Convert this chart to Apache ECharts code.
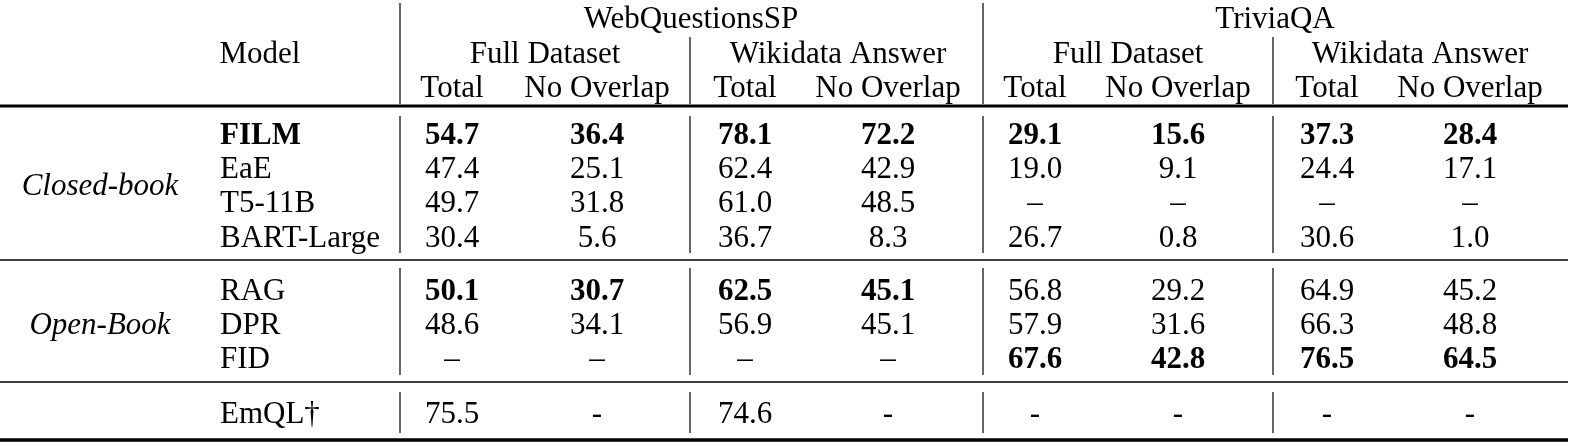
<!DOCTYPE html>
<html>
<head>
<meta charset="utf-8">
<script src="https://cdn.jsdelivr.net/npm/echarts@6/dist/echarts.min.js"></script>
<style>
html,body{margin:0;padding:0;background:#fff;}
#chart{width:1578px;height:447px;}
</style>
</head>
<body>
<div id="chart"></div>
<script>
// ---------- DATA ----------
const datasets = ['WebQuestionsSP', 'TriviaQA'];
const subsets = ['Full Dataset', 'Wikidata Answer'];
const metrics = ['Total', 'No Overlap'];
const groups = ['Closed-book', 'Open-Book'];
const models = ['FILM', 'EaE', 'T5-11B', 'BART-Large', 'RAG', 'DPR', 'FID', 'EmQL†'];

const wqFullTotal  = [54.7, 47.4, 49.7, 30.4, 50.1, 48.6, '–', 75.5];
const wqFullNoOv   = [36.4, 25.1, 31.8, 5.6, 30.7, 34.1, '–', '-'];
const wqWikiTotal  = [78.1, 62.4, 61.0, 36.7, 62.5, 56.9, '–', 74.6];
const wqWikiNoOv   = [72.2, 42.9, 48.5, 8.3, 45.1, 45.1, '–', '-'];
const tqFullTotal  = [29.1, 19.0, '–', 26.7, 56.8, 57.9, 67.6, '-'];
const tqFullNoOv   = [15.6, 9.1, '–', 0.8, 29.2, 31.6, 42.8, '-'];
const tqWikiTotal  = [37.3, 24.4, '–', 30.6, 64.9, 66.3, 76.5, '-'];
const tqWikiNoOv   = [28.4, 17.1, '–', 1.0, 45.2, 48.8, 64.5, '-'];

// bold flags (best results)
const boldModel = [true, false, false, false, false, false, false, false];
const boldWQ = [true, false, false, false, true, false, false, false];
const boldTQ = [true, false, false, false, false, false, true, false];

const columns = [wqFullTotal, wqFullNoOv, wqWikiTotal, wqWikiNoOv, tqFullTotal, tqFullNoOv, tqWikiTotal, tqWikiNoOv];

// ---------- LAYOUT (table geometry, in chart units) ----------
const W = 1578, H = 447;
const L = {
  groupX: 100,
  modelLeftX: 220,
  modelHeadX: 260,
  colX: [452, 597, 745, 888, 1035, 1178, 1327, 1470],
  subsetX: [545, 838, 1128, 1420],
  datasetX: [691, 1275],
  vX: [400, 690, 983, 1273],
  headY: [20, 55, 89],
  rowY: [136, 170, 204, 239, 292, 326, 360, 415],
  groupY: [187, 326],
  hRule: [[106, 3], [260, 1.6], [382, 1.6], [440, 3.5]],
  ruleX: [0, 1568],
  vHead: [[3, 104], [37, 104]],
  vBody: [[116, 253], [268, 375], [392, 433]]
};
const FONT = '"Liberation Serif","Times New Roman",serif';
const FS = 31;

// ---------- build text cells ----------
const cells = [];
function add(x, y, text, align, weight, style) {
  cells.push({ value: [x, y], text: String(text), align: align, weight: weight || 'normal', fstyle: style || 'normal' });
}
datasets.forEach((d, i) => add(L.datasetX[i], L.headY[0], d, 'center'));
add(L.modelHeadX, L.headY[1], 'Model', 'center');
for (let k = 0; k < 4; k++) add(L.subsetX[k], L.headY[1], subsets[k % 2], 'center');
for (let c = 0; c < 8; c++) add(L.colX[c], L.headY[2], metrics[c % 2], 'center');
groups.forEach((g, i) => add(L.groupX, L.groupY[i], g, 'center', 'normal', 'italic'));
models.forEach((m, r) => add(L.modelLeftX, L.rowY[r], m, 'left', boldModel[r] ? 'bold' : 'normal'));
columns.forEach((col, c) => {
  col.forEach((v, r) => {
    const bold = c < 4 ? boldWQ[r] : boldTQ[r];
    const txt = typeof v === 'number' ? v.toFixed(1) : v;
    add(L.colX[c], L.rowY[r], txt, 'center', bold ? 'bold' : 'normal');
  });
});

// ---------- rules ----------
const rules = [];
L.hRule.forEach(([y, w]) => rules.push({ value: [L.ruleX[0], y, L.ruleX[1], y, w] }));
L.vX.forEach((x, i) => {
  const hs = (i % 2 === 0) ? L.vHead[0] : L.vHead[1];
  rules.push({ value: [x, hs[0], x, hs[1], 1.2] });
  L.vBody.forEach(([a, b]) => rules.push({ value: [x, a, x, b, 1.2] }));
});

const chart = echarts.init(document.getElementById('chart'), null, { renderer: 'canvas' });
chart.setOption({
  backgroundColor: '#ffffff',
  animation: false,
  grid: { left: 0, right: 0, top: 0, bottom: 0 },
  xAxis: { type: 'value', min: 0, max: W, show: false },
  yAxis: { type: 'value', min: 0, max: H, inverse: true, show: false },
  series: [
    {
      type: 'custom',
      name: 'rules',
      silent: true,
      data: rules,
      encode: { x: [0, 2], y: [1, 3] },
      renderItem: function (params, api) {
        const p1 = api.coord([api.value(0), api.value(1)]);
        const p2 = api.coord([api.value(2), api.value(3)]);
        return {
          type: 'line',
          shape: { x1: p1[0], y1: p1[1], x2: p2[0], y2: p2[1] },
          style: { stroke: '#000', lineWidth: api.value(4) }
        };
      }
    },
    {
      type: 'custom',
      name: 'cells',
      silent: true,
      data: cells.map(c => ({ value: c.value })),
      encode: { x: 0, y: 1 },
      renderItem: function (params, api) {
        const c = cells[params.dataIndex];
        const p = api.coord([api.value(0), api.value(1)]);
        return {
          type: 'text',
          x: p[0], y: p[1],
          style: {
            text: c.text,
            fill: '#000',
            font: c.fstyle + ' ' + c.weight + ' ' + FS + 'px ' + FONT,
            align: c.align,
            verticalAlign: 'middle'
          }
        };
      }
    }
  ]
});
</script>
</body>
</html>
